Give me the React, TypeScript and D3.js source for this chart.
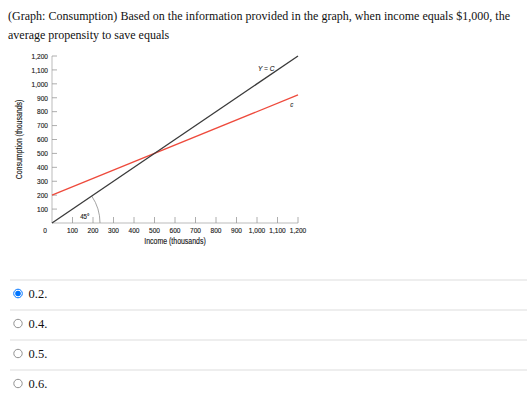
import React, {JSX} from "react";
import * as d3 from "d3";

// chart values
const incomeTicks = [100, 200, 300, 400, 500, 600, 700, 800, 900, 1000, 1100, 1200];
const consumptionTicks = [100, 200, 300, 400, 500, 600, 700, 800, 900, 1000, 1100, 1200];
const lineYC = [[0, 0], [1200, 1200]];
const lineC = [[0, 200], [1200, 920]];
const questionLines = [
    "(Graph: Consumption) Based on the information provided in the graph, when income equals $1,000, the",
    "average propensity to save equals",
];
const answers = ["0.2.", "0.4.", "0.5.", "0.6."];
const selected = 0;

// condensed sans text (no narrow font installed, so squeeze horizontally)
const Narrow = ({x, y, anchor = "start", size = 8, rotate = 0, italic = false, children}: any) => (
    <text transform={`translate(${x},${y}) rotate(${rotate}) scale(0.82,1)`} textAnchor={anchor}
          fontSize={size} fontStyle={italic ? "italic" : "normal"}>{children}</text>
);

const App = (): JSX.Element => {
    const width = 527;
    const height = 406;
    const x = d3.scaleLinear([0, 1200], [52, 298]);
    const y = d3.scaleLinear([0, 1200], [223, 56]);
    const line = d3.line<number[]>(d => x(d[0]), d => y(d[1]));
    const fmt = d3.format(",");

    // 45 degree arc around origin, up to the Y=C line
    const theta = Math.atan2(y(0) - y(1200), x(1200) - x(0));
    const arcPath = d3.path();
    arcPath.arc(x(0), y(0), 48, 0, -theta, true);

    const rowY = d3.scaleLinear([0, 1], [293.5, 323.5]);

    return (
        <svg width={width} height={height} style={{position: "absolute", left: 0, top: 0}}>
            <rect width={width} height={height} fill="#fff"/>
            <g fontFamily="'Liberation Serif', 'Times New Roman', serif" fontSize={12} fill="#111">
                {questionLines.map((t, i) => (
                    <text key={i} x={8} y={19.5 + i * 19} textLength={i === 0 ? 502 : undefined}>{t}</text>
                ))}
            </g>

            {/* axes */}
            <line x1={x(0)} x2={x(1200)} y1={y(0)} y2={y(0)} stroke="#aaa" strokeWidth={0.8}/>
            <line x1={x(0)} x2={x(0)} y1={y(0)} y2={y(1200)} stroke="#aaa" strokeWidth={0.8}/>
            <g fontFamily="'Liberation Sans', Arial, sans-serif" fill="#1a1a1a" stroke="#1a1a1a" strokeWidth={0.15}>
                {consumptionTicks.map(t => (
                    <g key={t}>
                        <line x1={x(0)} x2={x(0) + 5} y1={y(t)} y2={y(t)} stroke="#999" strokeWidth={0.8}/>
                        <Narrow x={x(0) - 4} y={y(t) + 2.8} anchor="end">{fmt(t)}</Narrow>
                    </g>
                ))}
                {incomeTicks.map(t => (
                    <g key={t}>
                        <line x1={x(t)} x2={x(t)} y1={y(0)} y2={y(0) - 6} stroke="#999" strokeWidth={0.8}/>
                        <Narrow x={x(t)} y={y(0) + 9.5} anchor="middle">{fmt(t)}</Narrow>
                    </g>
                ))}
                <Narrow x={x(0) - 7} y={y(0) + 9.5} anchor="middle">0</Narrow>
                <Narrow x={x(600)} y={y(0) + 21} anchor="middle" size={8.5}>Income (thousands)</Narrow>
                <Narrow x={22} y={y(600)} anchor="middle" size={8.5} rotate={-90}>Consumption (thousands)</Narrow>
                <Narrow x={x(160)} y={y(0) - 4} anchor="middle" size={7.5}>45°</Narrow>
                <Narrow x={x(1045)} y={y(1090)} anchor="middle" size={8} italic>Y = C</Narrow>
                <Narrow x={x(1170)} y={y(830)} anchor="middle" size={7.5} italic>c</Narrow>
            </g>

            <path d={arcPath.toString()} fill="none" stroke="#999" strokeWidth={0.9}/>
            <path d={line(lineC) as string} fill="none" stroke="#ee4a3c" strokeWidth={1.3}/>
            <path d={line(lineYC) as string} fill="none" stroke="#3a3a3a" strokeWidth={1.3}/>

            {/* answer options */}
            <g fontFamily="'Liberation Serif', 'Times New Roman', serif" fontSize={12.5} fill="#111">
                {answers.map((a, i) => (
                    <g key={a}>
                        <line x1={10} x2={width} y1={rowY(i) - 13.5} y2={rowY(i) - 13.5} stroke="#ddd" strokeWidth={1}/>
                        {i === selected ? (
                            <g>
                                <circle cx={18} cy={rowY(i)} r={4.3} fill="#fff" stroke="#0075ff" strokeWidth={1}/>
                                <circle cx={18} cy={rowY(i)} r={2.8} fill="#0075ff"/>
                            </g>
                        ) : (
                            <circle cx={18} cy={rowY(i)} r={4.2} fill="#fff" stroke="#858585" strokeWidth={0.9}/>
                        )}
                        <text x={28.5} y={rowY(i) + 4.5}>{a}</text>
                    </g>
                ))}
            </g>
        </svg>
    );
};

export default App;
